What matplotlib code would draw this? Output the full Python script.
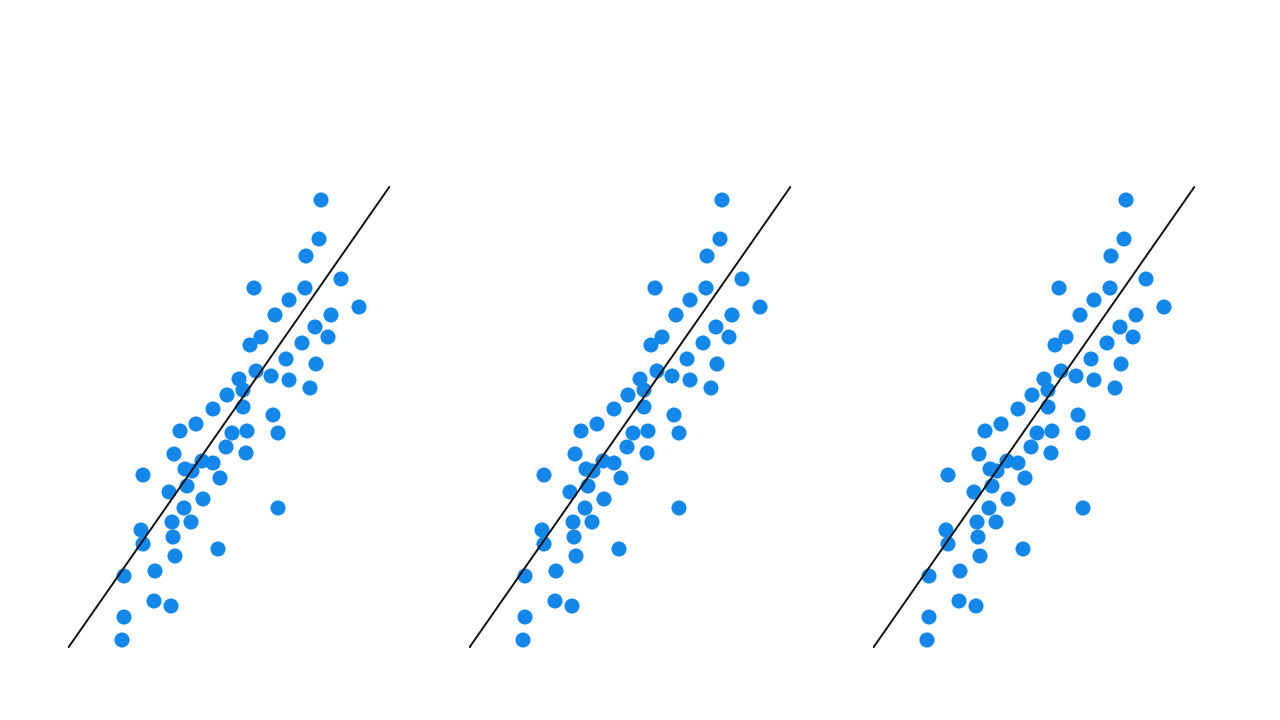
import numpy as np
import matplotlib
matplotlib.use("Agg")
import matplotlib.pyplot as plt

# scatter values (same data in all three panels)
xs = [253, 251, 238, 273, 186, 237, 221, 291, 263, 207, 247, 260, 193, 182,
      234, 218, 248, 188, 171, 203, 221, 175, 242, 159, 145, 175, 205, 128,
      112, 164, 179, 210, 158, 106, 178, 134, 145, 117, 124, 75, 152, 119,
      101, 135, 210, 116, 104, 123, 73, 105, 75, 150, 107, 87, 56, 86, 103,
      56, 54]
ys = [448, 409, 392, 369, 360, 360, 348, 341, 333, 333, 321, 311, 311, 303,
      305, 289, 284, 277, 269, 272, 268, 258, 260, 253, 239, 241, 233, 224,
      217, 215, 217, 215, 201, 194, 195, 187, 185, 179, 177, 173, 170, 162,
      156, 149, 140, 140, 126, 126, 118, 111, 104, 99, 92, 77, 72, 47, 42,
      31, 8]

# fitted line end points
line_x = [0, 322]
line_y = [0, 462]

panel_lefts = [68, 469, 873]

fig = plt.figure(figsize=(12.8, 7.2), dpi=100)
for left in panel_lefts:
    ax = fig.add_axes([left / 1280, 72 / 720, 322 / 1280, 462 / 720])
    ax.scatter(xs, ys, s=118, color='#1488EA', edgecolors='none', zorder=2,
               clip_on=False)
    ax.plot(line_x, line_y, color='#111111', lw=1.4, zorder=3)
    ax.set_xlim(0, 322)
    ax.set_ylim(0, 462)
    ax.axis('off')

fig.savefig("out.png", dpi=100)
